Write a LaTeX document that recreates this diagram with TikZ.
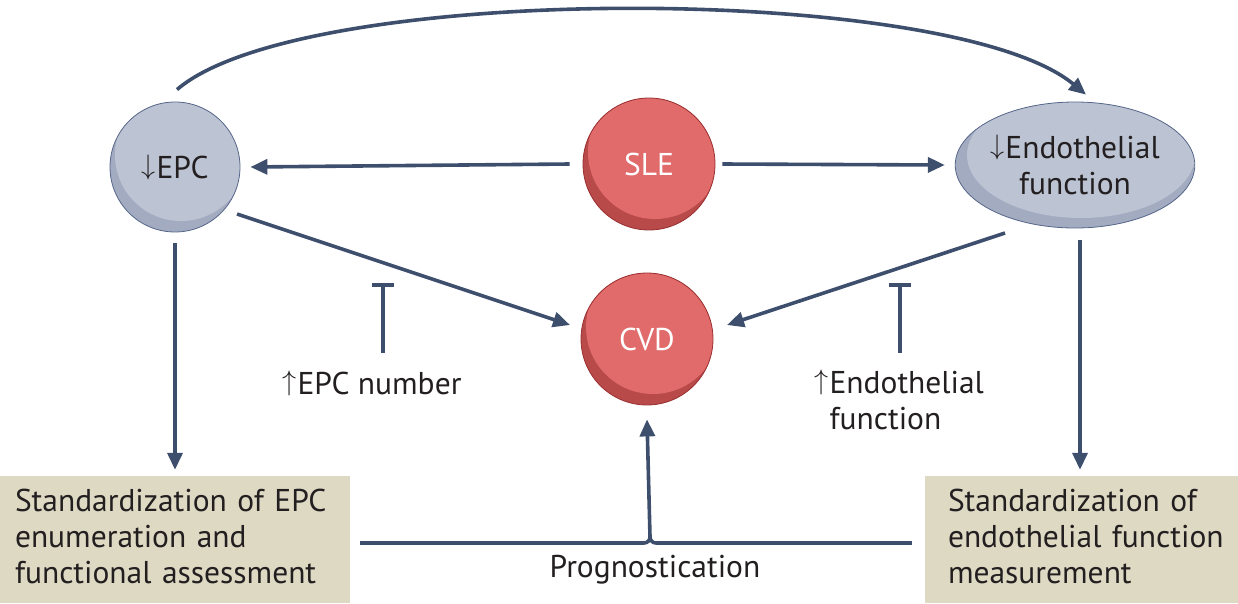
\documentclass[tikz,border=0pt]{standalone}
\usepackage{graphicx}
\usepackage{fontspec}
\setmainfont{PT Sans}
\usetikzlibrary{arrows.meta,shapes.geometric,calc}
\definecolor{arrc}{HTML}{3E4F6D}
\definecolor{bluefill}{HTML}{BCC3D3}
\definecolor{bluedark}{HTML}{A3ABC0}
\definecolor{blueborder}{HTML}{56668A}
\definecolor{redfill}{HTML}{E06B6A}
\definecolor{reddark}{HTML}{B84A4A}
\definecolor{redborder}{HTML}{9A2F30}
\definecolor{boxfill}{HTML}{DDD9C3}
\definecolor{txt}{HTML}{231F20}
\newcommand{\dnarr}{\raisebox{4.4pt}{\resizebox*{!}{25pt}{$\downarrow$}}\kern1pt}
\newcommand{\uparr}{\raisebox{4.4pt}{\resizebox*{!}{25pt}{$\uparrow$}}\kern1pt}
\tikzset{
  every node/.style={font=\fontsize{31.5}{36}\selectfont, text=txt},
  bluecirc/.style={circle, minimum size=130pt, inner sep=0pt, draw=blueborder, line width=0.8pt,
    path picture={\fill[bluedark] (path picture bounding box.south west) rectangle (path picture bounding box.north east);
      \fill[bluefill] ([shift={(6pt,12pt)}]path picture bounding box.center) circle (66pt);}},
  redcirc/.style={circle, minimum size=132pt, inner sep=0pt, draw=redborder, line width=0.8pt, text=white,
    path picture={\fill[reddark] (path picture bounding box.south west) rectangle (path picture bounding box.north east);
      \fill[redfill] ([shift={(6pt,12pt)}]path picture bounding box.center) circle (67pt);}},
  blueell/.style={ellipse, minimum width=226pt, minimum height=126pt, inner sep=0pt, draw=blueborder, line width=0.8pt, align=center,
    path picture={\fill[bluedark] (path picture bounding box.south west) rectangle (path picture bounding box.north east);
      \fill[bluefill] ([shift={(6pt,10pt)}]path picture bounding box.center) ellipse (114pt and 63pt);}},
  stdbox/.style={rectangle, fill=boxfill, inner ysep=0pt, align=left, minimum height=127pt},
  arr/.style={draw=arrc, line width=3.6pt, -{Triangle[length=17pt,width=15pt]}},
  inh/.style={draw=arrc, line width=3.6pt, -{Bar[width=22pt]}},
  plain/.style={draw=arrc, line width=3.6pt},
}
\begin{document}
\begin{tikzpicture}[x=1pt,y=-1pt]
\useasboundingbox (0,0) rectangle (1238,603);
\node[bluecirc] (epc) at (175,167) {\dnarr EPC};
\node[redcirc] (sle) at (649,164) {SLE};
\node[blueell] (endo) at (1075,165) {\dnarr Endothelial\\function};
\node[redcirc] (cvd) at (647,339) {CVD};
\node[stdbox, minimum width=350pt, inner xsep=15pt, text width=320pt] (box1) at (175,539.5)
  {\mbox{Standardization of EPC}\\enumeration and\\\mbox{functional assessment}\par\vspace*{7pt}};
\node[stdbox, minimum width=313pt, inner xsep=23pt, text width=267pt] (box2) at (1081.5,539.5)
  {Standardization of\\\mbox{endothelial function}\\measurement\par\vspace*{7pt}};
\node (lbl1) at (372,383) {\uparr EPC number};
\node[align=left, anchor=west] (lbl2) at (811,400) {\uparr Endothelial\\\phantom{\uparr}function};
\node (prog) at (655,570) {Prognostication};
% connectors
\draw[arr] ([shift={(2pt,12pt)}]epc.north) .. controls +(125,-108) and +(-135,-112) .. ([shift={(11pt,7pt)}]endo.north);
\draw[arr] ([xshift=-13pt]sle.west) -- ([xshift=10pt]epc.east);
\draw[arr] ([xshift=7pt]sle.east) -- ([xshift=-10pt]endo.west);
\draw[arr] ($(epc.center)+(62,47)$) -- ($(cvd.center)+(-77,-14)$);
\draw[arr] ($(endo.center)+(-70,68)$) -- ($(cvd.center)+(80,-14)$);
\coordinate (epcS) at ($(epc.south)+(0,11)$);
\coordinate (endoS) at ($(endo.south)+(5,12)$);
\draw[arr] (epcS) -- ([yshift=6pt]epcS |- box1.north);
\draw[arr] (endoS) -- ([yshift=6pt]endoS |- box2.north);
\coordinate (i1) at (383,353);
\coordinate (i1t) at (383,283);
\coordinate (i2) at (900,353);
\coordinate (i2t) at (900,283);
\draw[inh] (i1) -- (i1t);
\draw[inh] (i2) -- (i2t);
\coordinate (bl) at ($(box1.east)+(10,3.5)$);
\coordinate (br) at ($(box2.west)+(-13,3.5)$);
\coordinate (cusp) at (650,537);
\draw[plain] (bl) -- (644,543) to[out=0,in=-90] (cusp) to[out=-90,in=180] (656,543) -- (br);
\draw[arr] (cusp) -- ([yshift=-14pt]cvd.south);
\end{tikzpicture}
\end{document}
